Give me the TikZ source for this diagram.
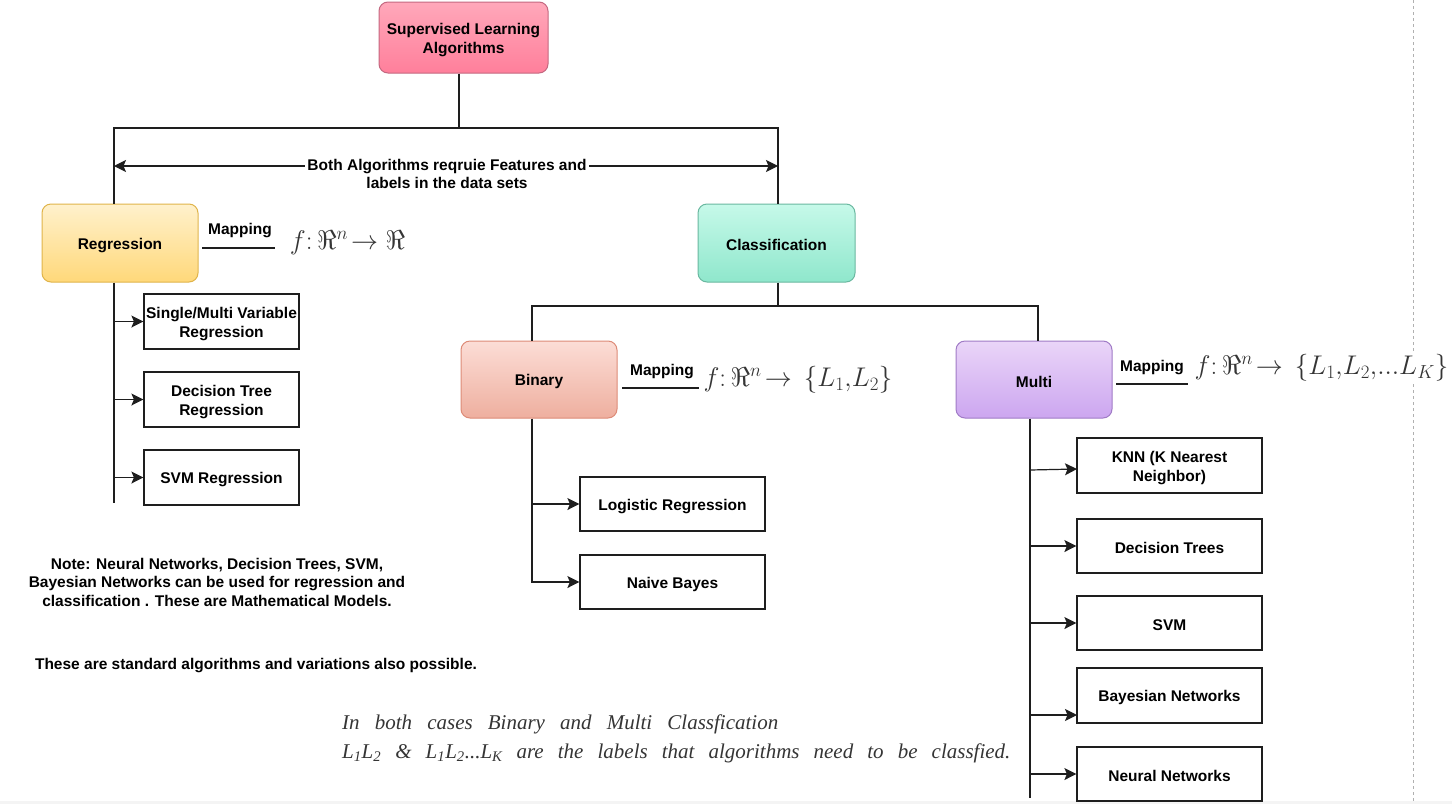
\documentclass[tikz,border=0pt]{standalone}
\usepackage{fix-cm}
\usepackage{fontspec}
\setmainfont{Liberation Sans}
\newfontfamily\serifit{Liberation Serif}
\usetikzlibrary{arrows.meta}
\definecolor{txtgray}{HTML}{353535}
\definecolor{linec}{HTML}{1E1E1E}
\definecolor{dashc}{HTML}{B0B0B0}
\definecolor{bggray}{HTML}{F4F4F4}
\newcommand\widewords[1]{\spaceskip=#1em\relax}
\begin{document}
\begin{tikzpicture}[x=1pt,y=-1pt,
  font=\fontsize{15.5}{18.5}\selectfont\bfseries,
  btxt/.style={align=center, yshift=-2.4pt, inner sep=0pt},
  roundbox/.style={rounded corners=9pt, line width=1pt, inner sep=0pt},
  leaf/.style={draw=linec, line width=1.2pt, fill=white, inner sep=0pt, minimum height=55pt},
  conn/.style={draw=linec, line width=1.2pt},
  dblarr/.style={conn, {Stealth[length=12pt,width=12pt,inset=2.5pt]}-{Stealth[length=12pt,width=12pt,inset=2.5pt]}},
  arr/.style={conn, -{Stealth[length=12pt,width=12pt,inset=2.5pt]}},
  maplbl/.style={inner sep=0pt},
  formula/.style={inner sep=1pt, fill=white, text=txtgray, font=\fontsize{27}{31}\selectfont},
  botline/.style={anchor=base west, inner sep=0pt, text=txtgray,
    font=\normalfont\serifit\itshape\fontsize{21}{25}\selectfont}
]
\useasboundingbox (0,0) rectangle (1452,804);
\fill[white] (0,0) rectangle (1452,804);
\fill[bggray] (0,801) rectangle (1452,804);
\draw[dashc, line width=0.8pt, dash pattern=on 3pt off 3pt] (1413,0) -- (1413,801);

% main nodes
\node[roundbox, minimum width=169pt, minimum height=71pt, top color={rgb,255:red,255;green,168;blue,186}, bottom color={rgb,255:red,255;green,127;blue,155}, draw={rgb,255:red,196;green,104;blue,128},
  label={[btxt]center:{Supervised Learning\\Algorithms}}] (sup) at (463.5,37.5) {};
\node[roundbox, minimum width=156pt, minimum height=78pt, top color={rgb,255:red,255;green,241;blue,204}, bottom color={rgb,255:red,255;green,216;blue,122}, draw={rgb,255:red,224;green,180;blue,74},
  label={[btxt]center:Regression}] (reg) at (120,243) {};
\node[roundbox, minimum width=157pt, minimum height=78pt, top color={rgb,255:red,198;green,249;blue,233}, bottom color={rgb,255:red,143;green,231;blue,204}, draw={rgb,255:red,106;green,184;blue,160},
  label={[btxt]center:Classification}] (cls) at (776.5,243) {};
\node[roundbox, minimum width=156pt, minimum height=77pt, top color={rgb,255:red,252;green,221;blue,214}, bottom color={rgb,255:red,238;green,175;blue,159}, draw={rgb,255:red,221;green,139;blue,119},
  label={[btxt]center:Binary}] (bin) at (539,379.5) {};
\node[roundbox, minimum width=156pt, minimum height=77pt, top color={rgb,255:red,234;green,213;blue,248}, bottom color={rgb,255:red,204;green,166;blue,240}, draw={rgb,255:red,160;green,123;blue,198},
  label={[btxt]center:Multi}] (mul) at (1034,379.5) {};

% leaves
\node[leaf, minimum width=155pt, label={[btxt]center:{Single/Multi Variable\\Regression}}] (r1) at (221.5,321.5) {};
\node[leaf, minimum width=155pt, label={[btxt]center:{Decision Tree\\Regression}}] (r2) at (221.5,399.5) {};
\node[leaf, minimum width=155pt, label={[btxt]center:SVM Regression}] (r3) at (221.5,477.5) {};
\node[leaf, minimum width=185pt, minimum height=54pt, label={[btxt]center:Logistic Regression}] (b1) at (672.5,504) {};
\node[leaf, minimum width=185pt, minimum height=54pt, label={[btxt]center:Naive Bayes}] (b2) at (672.5,582) {};
\node[leaf, minimum width=185pt, label={[btxt]center:{KNN (K Nearest\\Neighbor)}}] (m1) at (1169.5,465.5) {};
\node[leaf, minimum width=185pt, minimum height=54pt, label={[btxt]center:Decision Trees}] (m2) at (1169.5,546) {};
\node[leaf, minimum width=185pt, minimum height=54pt, label={[btxt]center:SVM}] (m3) at (1169.5,623) {};
\node[leaf, minimum width=185pt, label={[btxt]center:Bayesian Networks}] (m4) at (1169.5,695.5) {};
\node[leaf, minimum width=185pt, minimum height=54pt, label={[btxt]center:Neural Networks}] (m5) at (1169.5,774) {};

% top tree
\coordinate (j) at (459,128);
\coordinate (bl) at (114,128);
\coordinate (br) at (778,128);
\draw[conn] (sup.south -| j) -- (j);
\draw[conn] (bl |- reg.north) -- (bl) -- (br) -- (br |- cls.north);
\coordinate (al) at (114,166);
\coordinate (ar) at (778,166);
\draw[dblarr] (al) -- (ar);
\node[fill=white, align=center, inner sep=2pt] (both) at (447,174) {Both Algorithms reqruie Features and\\labels in the data sets};

% regression branch
\coordinate (rb) at (114,503);
\draw[conn] (rb |- reg.south) -- (rb);
\draw[arr] (rb |- r1.west) -- (r1.west);
\draw[arr] (rb |- r2.west) -- (r2.west);
\draw[arr] (rb |- r3.west) -- (r3.west);

% classification branch
\coordinate (cl) at (532,306);
\coordinate (cr) at (1038,306);
\draw[conn] (cls.south -| br) -- (br |- cl);
\draw[conn] (cl |- bin.north) -- (cl) -- (cr) -- (cr |- mul.north);

\coordinate (bb) at (532,583);
\draw[conn] (bb |- bin.south) -- (bb);
\draw[arr] (bb |- b1.west) -- (b1.west);
\draw[arr] (bb |- b2.west) -- (b2.west);

\coordinate (mb) at (1030,798);
\coordinate (m1a) at (1077,469);
\coordinate (m1b) at (1030,470);
\coordinate (m4a) at (1077,715);
\draw[conn] (mb |- mul.south) -- (mb);
\draw[arr] (m1b) -- (m1a);
\draw[arr] (mb |- m2.west) -- (m2.west);
\draw[arr] (mb |- m3.west) -- (m3.west);
\draw[arr] (mb |- m4a) -- (m4a);
\draw[arr] (mb |- m5.west) -- (m5.west);

% mapping labels
\node[maplbl] (mapr) at (240,231) {Mapping};
\coordinate (mr1) at (202,248); \coordinate (mr2) at (275,248);
\draw[conn] (mr1) -- (mr2);
\node[formula] (fr) at (347.5,243) {$f\colon\Re^n\!\rightarrow\Re$};

\node[maplbl] (mapb) at (662,372) {Mapping};
\coordinate (mb1) at (622,388); \coordinate (mb2) at (699,388);
\draw[conn] (mb1) -- (mb2);
\node[formula] (fb) at (798,380) {$f\colon\Re^n\!\rightarrow\,\{L_1{,}L_2\}$};

\node[maplbl] (mapm) at (1152,368) {Mapping};
\coordinate (mm1) at (1116,384); \coordinate (mm2) at (1188,384);
\draw[conn] (mm1) -- (mm2);
\node[formula] (fm) at (1321.5,368) {$f\colon\Re^n\!\rightarrow\,\{L_1{,}L_2{,}...L_K\}$};

% notes
\node[align=center, inner sep=0pt] (note) at (217,582) {Note: Neural Networks, Decision Trees, SVM,\\Bayesian Networks can be used for regression and\\classification . These are Mathematical Models.};
\node[inner sep=0pt] (std) at (256,666) {These are standard algorithms and variations also possible.};

\node[botline] (bt1) at (342,729) {\widewords{0.72}In both cases Binary and Multi Classfication};
\node[botline] (bt2) at (342,758) {\widewords{0.67}L\textsubscript{1}L\textsubscript{2} \& L\textsubscript{1}L\textsubscript{2}...L\textsubscript{K} are the labels that algorithms need to be classfied.};
\end{tikzpicture}
\end{document}
